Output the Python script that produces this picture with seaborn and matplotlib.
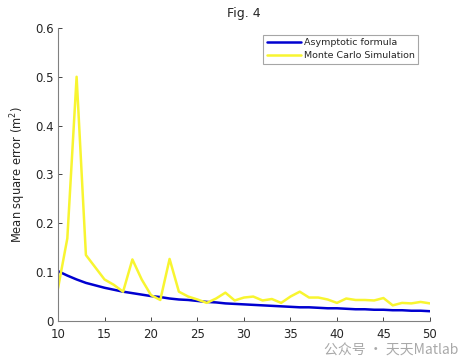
import numpy as np
import pandas as pd
import matplotlib
matplotlib.use("Agg")
import matplotlib.pyplot as plt
import seaborn as sns

# datos
n = list(range(10, 51))
asintotica = [0.102, 0.093, 0.085, 0.078, 0.073, 0.068, 0.064, 0.060, 0.057, 0.054,
              0.051, 0.049, 0.046, 0.044, 0.043, 0.041, 0.039, 0.038, 0.036, 0.035,
              0.034, 0.033, 0.032, 0.031, 0.030, 0.029, 0.028, 0.028, 0.027, 0.026,
              0.026, 0.025, 0.024, 0.024, 0.023, 0.023, 0.022, 0.022, 0.021, 0.021,
              0.020]
montecarlo = [0.067, 0.169, 0.500, 0.135, 0.110, 0.085, 0.074, 0.060, 0.126, 0.085,
              0.053, 0.043, 0.127, 0.060, 0.050, 0.044, 0.037, 0.046, 0.058, 0.042,
              0.048, 0.050, 0.042, 0.045, 0.037, 0.050, 0.060, 0.048, 0.048, 0.044,
              0.037, 0.046, 0.043, 0.043, 0.042, 0.047, 0.032, 0.037, 0.036, 0.039,
              0.036]
etiquetas = ["Asymptotic formula", "Monte Carlo Simulation"]

df = pd.DataFrame({"n": n * 2,
                   "mse": asintotica + montecarlo,
                   "serie": [etiquetas[0]] * len(n) + [etiquetas[1]] * len(n)})

sns.set_style("white")
plt.rcParams['font.family'] = ['DejaVu Sans', 'Noto Sans CJK SC']

fig = plt.figure(figsize=(4.74, 3.58), dpi=100)
ax = fig.add_axes([0.1224, 0.1034, 0.7846, 0.8186])
sns.lineplot(data=df, x="n", y="mse", hue="serie",
             palette={etiquetas[0]: "#0000d0", etiquetas[1]: "#f8f530"},
             linewidth=1.8, ax=ax)

ax.set_xlim(10, 50)
ax.set_ylim(0, 0.6)
ax.set_xticks(range(10, 51, 5))
ax.set_yticks([0, 0.1, 0.2, 0.3, 0.4, 0.5, 0.6])
ax.set_yticklabels(["0", "0.1", "0.2", "0.3", "0.4", "0.5", "0.6"])
ax.tick_params(direction="in", length=3, labelsize=8.5, colors="#262626",
               bottom=True, left=True, width=0.6, pad=3)
ax.tick_params(axis="x", pad=5)
for s in ["top", "right"]:
    ax.spines[s].set_visible(False)
for s in ["left", "bottom"]:
    ax.spines[s].set_color("#808080")
    ax.spines[s].set_linewidth(0.8)
ax.set_xlabel("")
ax.set_ylabel("Mean square error (m$^2$)", fontsize=8.3, color="#262626")
ax.yaxis.set_label_coords(-0.081, 0.5)
ax.set_title("Fig. 4", fontsize=9, color="#262626", pad=8)

leg = ax.legend(loc="upper right", bbox_to_anchor=(0.975, 0.985), fontsize=6.8,
                frameon=True, fancybox=False, borderpad=0.35, labelspacing=0.4,
                handlelength=3.6, handletextpad=0.3, borderaxespad=0.3)
leg.get_frame().set_edgecolor("#909090")
leg.get_frame().set_linewidth(0.8)

# marca de agua
fig.text(0.968, 0.02, "公众号 · 天天Matlab", ha="right", va="center",
         fontsize=10, color="#a0a0a0", alpha=0.9,
         family=['Noto Sans CJK SC', 'DejaVu Sans'])

fig.savefig("out.png", dpi=100, facecolor="white")
